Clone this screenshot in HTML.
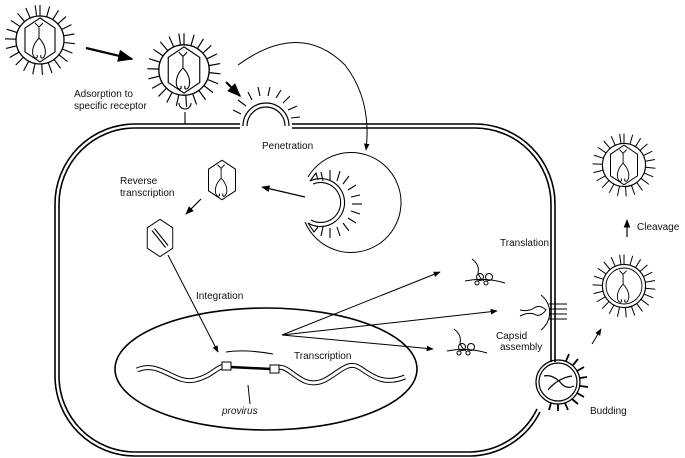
<!DOCTYPE html>
<html><head><style>body{margin:0;background:#fff}svg{display:block}text{font-family:"Liberation Sans",sans-serif;font-size:10px;fill:#111}</style></head><body>
<svg width="685" height="458" viewBox="0 0 685 458" xmlns="http://www.w3.org/2000/svg">
<defs>
<marker id="ah" viewBox="0 0 10 10" refX="9" refY="5" markerWidth="7" markerHeight="7" orient="auto"><path d="M0,1 L10,5 L0,9 z" fill="#000"/></marker>
<g id="spk"><g stroke="#000" stroke-width="1.1">
<line x1="0" y1="-24" x2="0" y2="-35"/><line x1="0" y1="-24" x2="0" y2="-35" transform="rotate(16)"/><line x1="0" y1="-24" x2="0" y2="-35" transform="rotate(32)"/><line x1="0" y1="-24" x2="0" y2="-35" transform="rotate(48)"/><line x1="0" y1="-24" x2="0" y2="-35" transform="rotate(64)"/><line x1="0" y1="-24" x2="0" y2="-35" transform="rotate(80)"/><line x1="0" y1="-24" x2="0" y2="-35" transform="rotate(96)"/><line x1="0" y1="-24" x2="0" y2="-35" transform="rotate(112)"/><line x1="0" y1="-24" x2="0" y2="-35" transform="rotate(128)"/><line x1="0" y1="-24" x2="0" y2="-35" transform="rotate(144)"/><line x1="0" y1="-24" x2="0" y2="-35" transform="rotate(160)"/><line x1="0" y1="-24" x2="0" y2="-35" transform="rotate(176)"/><line x1="0" y1="-24" x2="0" y2="-35" transform="rotate(192)"/><line x1="0" y1="-24" x2="0" y2="-35" transform="rotate(208)"/><line x1="0" y1="-24" x2="0" y2="-35" transform="rotate(224)"/><line x1="0" y1="-24" x2="0" y2="-35" transform="rotate(240)"/><line x1="0" y1="-24" x2="0" y2="-35" transform="rotate(256)"/><line x1="0" y1="-24" x2="0" y2="-35" transform="rotate(272)"/><line x1="0" y1="-24" x2="0" y2="-35" transform="rotate(288)"/><line x1="0" y1="-24" x2="0" y2="-35" transform="rotate(304)"/><line x1="0" y1="-24" x2="0" y2="-35" transform="rotate(320)"/><line x1="0" y1="-24" x2="0" y2="-35" transform="rotate(336)"/><line x1="0" y1="-24" x2="0" y2="-35" transform="rotate(352)"/>
</g></g>
<g id="rna" fill="none" stroke="#000" stroke-width="1"><path d="M-1,-13 L-1,-2 C-7,4 -9,12 -6,17 C-4,19 -2,18 -3,15 M-1,-2 C5,4 7,12 4,17 C2,19 0,18 1,15 M-1,-13 L-5,-17 M-1,-13 L3,-17"/></g>
<g id="hex" fill="none" stroke="#000" stroke-width="1.1"><polygon points="0,-22 15,-12 15,12 0,22 -15,12 -15,-12"/></g>
<g id="virus"><use href="#spk"/><circle r="24" fill="#fff" stroke="#000" stroke-width="1.3"/><use href="#hex"/><use href="#rna"/></g>
<g id="ribo" fill="none" stroke="#000" stroke-width="1"><path d="M-15,8 Q5,4 25,10"/><path d="M-8,-14 Q0,-8 -2,0 Q0,6 4,8"/><circle cx="0" cy="4" r="3.5"/><circle cx="9" cy="4" r="3.5"/><circle cx="-3" cy="10" r="2"/><circle cx="6" cy="10" r="2"/></g>
</defs>
<path d="M240,124 L135,124 A80,80 0 0 0 55,204 L55,376 A80,80 0 0 0 135,456 L470,456 A80,80 0 0 0 540,412" fill="none" stroke="#000" stroke-width="1.6"/>
<path d="M240,128 L135,128 A76,76 0 0 0 59,204 L59,376 A76,76 0 0 0 135,452 L470,452 A76,76 0 0 0 537,409" fill="none" stroke="#000" stroke-width="1.6"/>
<path d="M292,124 L475,124 A80,80 0 0 1 555,204 L555,362" fill="none" stroke="#000" stroke-width="1.6"/>
<path d="M292,128 L475,128 A76,76 0 0 1 551,204 L551,362" fill="none" stroke="#000" stroke-width="1.6"/>
<use href="#virus" transform="translate(40,40)"/>
<use href="#virus" transform="translate(184,70) scale(1.05)"/>
<line x1="86" y1="48" x2="132" y2="59" stroke="#000" stroke-width="2.2" marker-end="url(#ah)"/>
<line x1="226" y1="82" x2="240" y2="96" stroke="#000" stroke-width="2" marker-end="url(#ah)"/>
<path d="M185,124 L185,112 M179,103 A6,6 0 0 0 191,103" fill="none" stroke="#000" stroke-width="1.1"/>
<text x="74" y="97">Adsorption to</text><text x="74" y="109">specific receptor</text>
<g fill="none" stroke="#000" stroke-width="1.2">
<path d="M243,126 A23,23 0 0 1 289,126"/><path d="M247,126 A19,19 0 0 1 285,126"/>
<g stroke-width="1.1"><line x1="241" y1="114" x2="233" y2="110"/><line x1="246" y1="106" x2="238" y2="100"/><line x1="252" y1="100" x2="248" y2="92"/><line x1="260" y1="96" x2="258" y2="87"/><line x1="268" y1="96" x2="270" y2="87"/><line x1="276" y1="98" x2="281" y2="90"/><line x1="283" y1="103" x2="290" y2="96"/><line x1="288" y1="110" x2="297" y2="106"/><line x1="291" y1="118" x2="300" y2="117"/></g>
</g>
<path d="M238,65 Q300,20 345,65 Q372,100 366,150" fill="none" stroke="#000" stroke-width="1" marker-end="url(#ah)"/>
<text x="262" y="149">Penetration</text>
<path d="M308,177 A50,50 0 1 1 305,222" fill="none" stroke="#000" stroke-width="1"/>
<g fill="none" stroke="#000" stroke-width="1.1">
<path d="M310,181 A24,24 0 1 1 308,223"/><path d="M313,184 A20,20 0 1 1 311,220"/>
<g><line x1="330" y1="180" x2="330" y2="170"/><line x1="337" y1="181" x2="340" y2="171"/><line x1="343" y1="184" x2="349" y2="176"/><line x1="348" y1="190" x2="356" y2="185"/><line x1="351" y1="197" x2="360" y2="195"/><line x1="352" y1="204" x2="362" y2="204"/><line x1="351" y1="211" x2="360" y2="214"/><line x1="348" y1="218" x2="356" y2="223"/><line x1="343" y1="223" x2="349" y2="231"/><line x1="337" y1="227" x2="340" y2="236"/><line x1="330" y1="228" x2="330" y2="238"/><line x1="323" y1="227" x2="321" y2="236"/><line x1="323" y1="181" x2="321" y2="172"/></g>
<path d="M310,181 L316,173 L318,180"/><path d="M308,223 L314,232 L318,227"/>
</g>
<line x1="305" y1="197" x2="262" y2="187" stroke="#000" stroke-width="1.2" marker-end="url(#ah)"/>
<g transform="translate(222,180) scale(0.9)"><use href="#hex"/><use href="#rna"/></g>
<text x="120" y="184">Reverse</text><text x="120" y="196">transcription</text>
<line x1="201" y1="199" x2="186" y2="214" stroke="#000" stroke-width="1.2" marker-end="url(#ah)"/>
<g transform="translate(160,238) scale(0.85)"><use href="#hex"/><path d="M-8,-10 L8,10" stroke="#000" stroke-width="5"/><path d="M-8,-10 L8,10" stroke="#fff" stroke-width="2.5"/></g>
<line x1="168" y1="255" x2="218" y2="352" stroke="#000" stroke-width="1" marker-end="url(#ah)"/>
<text x="196" y="299">Integration</text>
<ellipse cx="266" cy="369" rx="151" ry="61" fill="none" stroke="#000" stroke-width="1.6"/>
<path d="M137,370 C160,360 175,385 195,380 C212,376 215,368 224,366 M276,368 C290,362 300,392 325,380 C340,372 348,360 360,368 C375,378 385,385 405,377" fill="none" stroke="#000" stroke-width="5"/>
<path d="M137,370 C160,360 175,385 195,380 C212,376 215,368 224,366 M276,368 C290,362 300,392 325,380 C340,372 348,360 360,368 C375,378 385,385 405,377" fill="none" stroke="#fff" stroke-width="3"/>
<line x1="230" y1="367" x2="271" y2="369" stroke="#000" stroke-width="2.5"/>
<rect x="222" y="362" width="9" height="8" fill="#fff" stroke="#000"/><rect x="270" y="365" width="9" height="8" fill="#fff" stroke="#000"/>
<path d="M226,352 Q245,349 273,354" fill="none" stroke="#000"/>
<text x="294" y="359">Transcription</text>
<line x1="248" y1="385" x2="250" y2="404" stroke="#000"/>
<text x="222" y="414" font-style="italic">provirus</text>
<g stroke="#000" stroke-width="1" fill="none"><line x1="282" y1="335" x2="440" y2="272" marker-end="url(#ah)"/><line x1="282" y1="335" x2="497" y2="311" marker-end="url(#ah)"/><line x1="282" y1="335" x2="433" y2="349" marker-end="url(#ah)"/></g>
<text x="500" y="246">Translation</text>
<use href="#ribo" transform="translate(480,273)"/>
<use href="#ribo" transform="translate(462,343)"/>
<g fill="none" stroke="#000" stroke-width="1"><path d="M541,295 A22,22 0 0 1 541,330"/><path d="M520,310 Q528,312 534,308 Q540,304 546,310 Q540,318 534,314 Q528,312 520,316"/><line x1="549" y1="304" x2="567" y2="304"/><line x1="549" y1="309" x2="567" y2="309"/><line x1="549" y1="314" x2="567" y2="314"/><line x1="549" y1="319" x2="567" y2="319"/></g>
<text x="496" y="339">Capsid</text><text x="500" y="350">assembly</text>
<g fill="none" stroke="#000" stroke-width="1.2"><circle cx="558" cy="382" r="22"/><circle cx="558" cy="382" r="19"/><path d="M544,376 Q552,374 560,382 Q566,390 574,386 M548,390 Q558,378 572,376"/>
<g stroke-width="1.8"><line x1="566" y1="361" x2="569" y2="354"/><line x1="573" y1="365" x2="578" y2="359"/><line x1="577" y1="371" x2="584" y2="367"/><line x1="580" y1="378" x2="587" y2="377"/><line x1="580" y1="386" x2="588" y2="387"/><line x1="577" y1="393" x2="584" y2="397"/><line x1="572" y1="399" x2="578" y2="404"/><line x1="565" y1="403" x2="568" y2="410"/><line x1="558" y1="404" x2="558" y2="411"/><line x1="551" y1="403" x2="549" y2="410"/></g></g>
<text x="590" y="414">Budding</text>
<g transform="translate(624,286) scale(0.9)"><use href="#spk"/><circle r="24" fill="#fff" stroke="#000" stroke-width="1.3"/><circle r="20" fill="none" stroke="#000"/><use href="#rna"/></g>
<line x1="592" y1="344" x2="601" y2="329" stroke="#000" stroke-width="1" marker-end="url(#ah)"/>
<g transform="translate(624,165) scale(0.9)"><use href="#virus"/></g>
<line x1="627" y1="237" x2="627" y2="220" stroke="#000" stroke-width="1.2" marker-end="url(#ah)"/>
<text x="637" y="230">Cleavage</text>
</svg>
</body></html>
